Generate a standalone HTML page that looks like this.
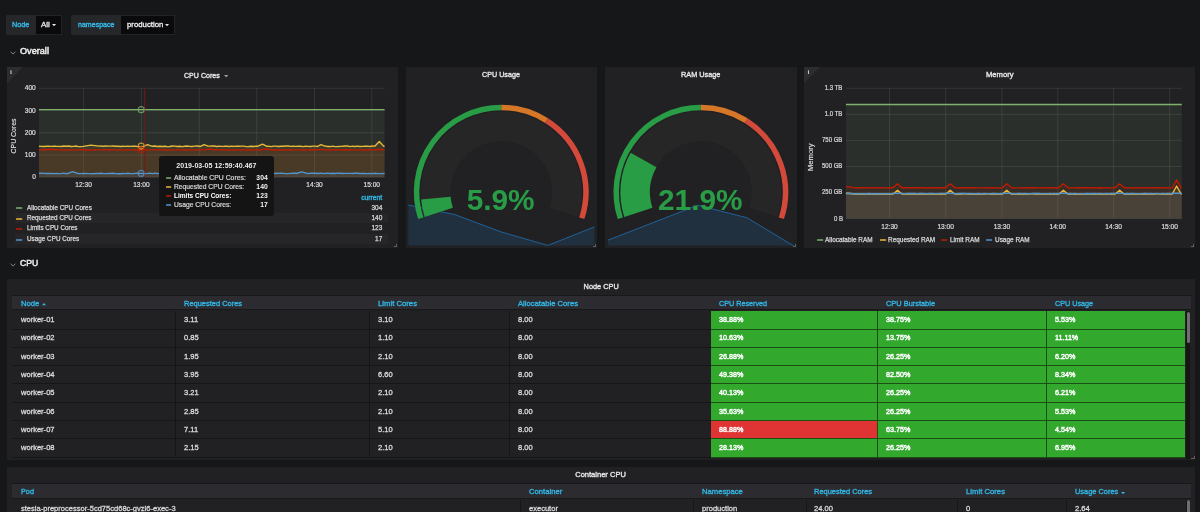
<!DOCTYPE html>
<html><head><meta charset="utf-8"><title>Kubernetes Capacity</title>
<style>
html,body{margin:0;padding:0;background:#161719}
body{width:1200px;height:512px;overflow:hidden;position:relative;font-family:"Liberation Sans",sans-serif;color:#d8d9da;font-size:7.5px;line-height:10px}
#page{position:absolute;left:0;top:0;width:1200px;height:512px;overflow:hidden;background:#161719;filter:blur(0.4px)}
div,span{box-sizing:border-box}
.a{position:absolute}
.t{position:absolute;white-space:nowrap;height:10px;line-height:10px}
.panel{position:absolute;background:#212124}
.corner{position:absolute;left:0;top:0;width:0;height:0;border-top:16px solid #2d2d30;border-right:16px solid transparent}
.ci{position:absolute;left:3.3px;top:1px;font-size:6.9px;line-height:8px;color:#c8c8c8;font-family:"Liberation Serif",serif;font-weight:bold}
.rh{position:absolute;right:.6px;bottom:.5px;width:3.4px;height:3.4px;border-right:1.1px solid #5e5e5e;border-bottom:1.1px solid #5e5e5e}
svg{position:absolute;overflow:visible}
svg text{font-family:"Liberation Sans",sans-serif;fill:#d8d9da}
.vb{position:absolute;top:14.6px;height:20.4px}
.lab{background:#26272b;border-radius:1.5px 0 0 1.5px}
.val{background:#0a0a0c;border:.6px solid #222326;border-left:0}
.caret{position:absolute;width:0;height:0;border-left:2px solid transparent;border-right:2px solid transparent;border-top:2.3px solid #e0e0e0}
.dash{position:absolute;height:1.6px;border-radius:.5px}
.cell{position:absolute}
</style></head><body><div id="page">

<div class="vb lab" style="left:5.9px;width:30px"></div>
<div class="vb val" style="left:35.9px;width:26px"></div>
<div class="vb lab" style="left:71.1px;width:50px"></div>
<div class="vb val" style="left:121.1px;width:54px"></div>
<div class="t" style="left:11.9px;top:19.6px;font-size:7.5px;color:#35b9e6;transform:scaleX(0.9593);transform-origin:0 50%;-webkit-text-stroke:0.38px #35b9e6">Node</div>
<div class="t" style="left:41.3px;top:19.6px;font-size:7.5px;color:#f0f0f0;transform:scaleX(1.0558);transform-origin:0 50%;-webkit-text-stroke:0.27px #f0f0f0">All</div>
<svg style="left:52.4px;top:23.6px" width="4.1" height="2.3" viewBox="0 0 4.1 2.3"><polygon points="0,0 4.1,0 2.05,2.3" fill="#e6e6e6"/></svg>
<div class="t" style="left:77.7px;top:19.6px;font-size:7.5px;color:#35b9e6;transform:scaleX(0.9413);transform-origin:0 50%;-webkit-text-stroke:0.38px #35b9e6">namespace</div>
<div class="t" style="left:126.7px;top:19.6px;font-size:7.5px;color:#f0f0f0;transform:scaleX(1.0364);transform-origin:0 50%;-webkit-text-stroke:0.3px #f0f0f0">production</div>
<svg style="left:164.8px;top:23.6px" width="4.1" height="2.3" viewBox="0 0 4.1 2.3"><polygon points="0,0 4.1,0 2.05,2.3" fill="#e6e6e6"/></svg>
<svg style="left:10.2px;top:51.2px" width="6" height="4" viewBox="0 0 6 4"><path d="M.6 .7 L3 3.1 L5.4 .7" fill="none" stroke="#8e8e8e" stroke-width=".9"/></svg>
<div class="t" style="left:20px;top:45.9px;font-size:8.9px;color:#ececec;transform:scaleX(1.0287);transform-origin:0 50%;-webkit-text-stroke:0.5px #ececec">Overall</div>
<svg style="left:10.2px;top:263px" width="6" height="4" viewBox="0 0 6 4"><path d="M.6 .7 L3 3.1 L5.4 .7" fill="none" stroke="#8e8e8e" stroke-width=".9"/></svg>
<div class="t" style="left:19.9px;top:257.9px;font-size:8.9px;color:#ececec;transform:scaleX(0.9739);transform-origin:0 50%;-webkit-text-stroke:0.5px #ececec">CPU</div>
<div class="panel" style="left:6.8px;top:67.2px;width:391px;height:180.7px">
<div class="corner"></div><div class="ci">i</div>
<div class="rh"></div></div>
<div class="t" style="left:184.2px;top:70.6px;font-size:7.6px;color:#e6e6e6;transform:scaleX(0.9315);transform-origin:0 50%;-webkit-text-stroke:0.36px #e6e6e6">CPU Cores</div>
<svg style="left:224.2px;top:74.6px" width="4.4" height="2.4" viewBox="0 0 4.4 2.4"><polygon points="0,0 4.4,0 2.2,2.4" fill="#9a9a9a"/></svg>
<svg style="left:0;top:0" width="1200" height="512" viewBox="0 0 1200 512"><path d="M39 88.3 H384.6" stroke="rgba(205,205,205,.2)" stroke-width=".6"/><path d="M39 110.52 H384.6" stroke="rgba(205,205,205,.2)" stroke-width=".6"/><path d="M39 132.75 H384.6" stroke="rgba(205,205,205,.2)" stroke-width=".6"/><path d="M39 154.97 H384.6" stroke="rgba(205,205,205,.2)" stroke-width=".6"/><path d="M39 177.2 H384.6" stroke="rgba(205,205,205,.2)" stroke-width=".6"/><path d="M83.6 88.3 V177.2" stroke="rgba(205,205,205,.2)" stroke-width=".6"/><path d="M141.4 88.3 V177.2" stroke="rgba(205,205,205,.2)" stroke-width=".6"/><path d="M199.2 88.3 V177.2" stroke="rgba(205,205,205,.2)" stroke-width=".6"/><path d="M256.8 88.3 V177.2" stroke="rgba(205,205,205,.2)" stroke-width=".6"/><path d="M314.5 88.3 V177.2" stroke="rgba(205,205,205,.2)" stroke-width=".6"/><path d="M371.8 88.3 V177.2" stroke="rgba(205,205,205,.2)" stroke-width=".6"/><path d="M39 109.64 L384.6 109.64 L384.6 177.2 L39 177.2 Z" fill="#7eb26d" fill-opacity=".1"/><path d="M39 146.28 L41.47 146.34 L43.94 146.56 L46.41 146.29 L48.87 146.31 L51.34 146.36 L53.81 146.12 L56.28 146.31 L58.75 146.39 L61.22 146.48 L63.69 146.06 L66.15 146.19 L68.62 146.06 L71.09 146.49 L73.56 146.42 L76.03 146.03 L78.5 146.6 L80.97 146.59 L83 146.4 L91 145.11 L99 146.1 L100.71 146.02 L103.18 146.32 L105.65 146.04 L108.12 146.12 L110.59 146.15 L113.06 146.03 L115.53 146.29 L117.99 146.27 L120.46 146.51 L122.93 146.32 L125.4 146.39 L127.87 146.31 L130.34 146.4 L132.81 146.28 L135.27 146.17 L137.74 146.61 L140.21 146.6 L142.68 146.51 L143.5 146.43 L147.5 144.71 L151.5 146.15 L152.55 146.18 L155.02 146.05 L157.49 146.47 L159.96 146.25 L162.43 146.52 L164.9 146.24 L167.37 146.58 L169.83 146.52 L172.3 146.01 L174.77 146.13 L177.24 146.55 L179.71 146.29 L182.18 146.6 L184.65 146.25 L187.11 146.05 L189.58 146.38 L192.05 146.47 L194.52 146.17 L196.99 146.06 L199.46 146.21 L200 146.59 L204 144.71 L208 146.08 L209.33 146.16 L211.8 146.07 L214.27 146.04 L216.74 146.49 L219.21 146.11 L221.67 146.34 L224.14 146.28 L226.61 146.12 L229.08 146.45 L231.55 146.09 L234.02 146.39 L236.49 146.08 L238.95 146.26 L241.42 146.13 L243.89 146.17 L246.36 146.59 L248.83 146.49 L251.3 146.19 L253.77 146.54 L256.23 146.13 L258 146.24 L262.5 144.11 L267 146.39 L268.58 146.07 L271.05 146.6 L273.51 146.14 L275.98 146.16 L278.45 146.47 L280.92 146.2 L283.39 146.19 L285.86 146.05 L288.33 146.06 L290.79 146.36 L293.26 146.15 L295.73 146.37 L298.2 146.23 L300.67 146.28 L303.14 146.58 L305.61 146.3 L308.07 146.35 L310.54 146.53 L313.01 146.12 L315.48 146.1 L317 146.55 L321 144.71 L325 146.16 L325.35 146.12 L327.82 146.45 L330.29 146.57 L332.76 146.13 L335.23 146.58 L337.7 146.54 L340.17 146.37 L342.63 146.26 L345.1 146.07 L347.57 146.03 L350.04 146.58 L352.51 146.15 L354.98 146.43 L357.45 146.16 L359.91 146.5 L362.38 146.37 L364.85 146.18 L367.32 146.11 L369.79 146.44 L372.26 146.05 L374.73 146.14 L374.8 146.34 L379.3 141.51 L383.8 146.38 L384.6 146.18 L384.6 177.2 L39 177.2 Z" fill="#eab839" fill-opacity=".1"/><path d="M39 149.96 L41.47 149.79 L43.94 149.75 L45 149.81 L50 149.26 L55 149.76 L56.28 149.79 L58.75 149.83 L61.22 149.88 L63.69 149.77 L66.15 149.83 L68.62 149.96 L71.09 149.98 L73.56 149.9 L76.03 149.91 L78.5 149.88 L80.97 149.78 L83.43 149.75 L85.9 149.75 L88.37 149.96 L90.84 149.91 L93.31 149.97 L95.78 149.75 L98.25 149.9 L100.71 149.86 L103.18 149.92 L105.65 149.82 L108.12 149.98 L110.59 149.76 L113.06 149.87 L115.53 149.92 L117.99 149.96 L120.46 149.92 L122.93 149.91 L125.4 149.93 L127.87 149.96 L130.34 149.83 L132.81 149.91 L135.27 149.96 L137.74 149.95 L140.21 149.84 L142.68 149.93 L145.15 149.95 L147.62 149.88 L150.09 149.89 L152.55 149.84 L155.02 149.88 L157.49 149.89 L159.96 149.76 L162.43 149.9 L164.9 149.98 L167.37 149.95 L169.83 149.92 L172.3 149.84 L174.77 149.92 L177.24 149.88 L179.71 149.85 L182.18 149.94 L184.65 149.76 L187.11 149.92 L189.58 149.75 L192.05 149.89 L194.52 149.86 L196.99 149.8 L199.46 149.91 L201.93 149.86 L203.8 149.89 L208.8 149.06 L213.8 149.8 L214.27 149.75 L216.74 149.82 L219.21 149.91 L221.67 149.79 L224.14 149.78 L226.61 149.96 L229.08 149.9 L231.55 149.85 L234.02 149.96 L236.49 149.82 L238.95 149.9 L241.42 149.79 L243.89 149.85 L246.36 149.94 L248.83 149.96 L251.3 149.95 L253.77 149.84 L256.23 149.88 L258.7 149.82 L260.4 149.78 L266.4 149.06 L272.4 149.94 L273.51 149.95 L275.98 149.91 L278.45 149.97 L280.92 149.81 L283.39 149.78 L285.86 149.85 L288.33 149.81 L290.79 149.79 L293.26 149.84 L295.73 149.89 L298.2 149.86 L300.67 149.82 L303.14 149.94 L305.61 149.98 L308.07 149.85 L310.54 149.76 L313.01 149.75 L315.48 149.95 L316 149.75 L321 149.36 L326 149.88 L327.82 149.82 L330.29 149.93 L332.76 149.75 L335.23 149.78 L337.7 149.85 L340.17 149.75 L342.63 149.94 L345.1 149.8 L347.57 149.78 L350.04 149.75 L352.51 149.89 L354.98 149.85 L357.45 149.89 L359.91 149.9 L362.38 149.94 L364.85 149.97 L367.32 149.91 L369.79 149.79 L372.26 149.86 L374 149.79 L379 149.26 L384 149.86 L384.6 149.91 L384.6 177.2 L39 177.2 Z" fill="#bf1b00" fill-opacity=".1"/><path d="M39 173.23 L41.47 173.29 L43.94 173.33 L46.41 173.54 L48.87 173.43 L51.34 173.49 L53.81 173.58 L56.28 173.36 L58.75 173.6 L61.22 173.67 L63.69 173.17 L66.15 173.68 L67.5 173.56 L72.5 171.62 L77.5 173.39 L78.5 173.5 L80.97 173.67 L83.43 173.35 L85.9 173.46 L88.37 173.65 L90.84 173.6 L93.31 173.69 L95.78 173.4 L98.25 173.51 L100.71 173.24 L103.18 173.55 L105.65 173.61 L108.12 173.51 L110.59 173.55 L113.06 173.25 L115.53 173.66 L117.99 173.71 L120.46 173.71 L122.93 173.44 L125.4 173.6 L127.87 173.31 L130.34 173.67 L132.81 173.64 L135.27 173.33 L137.74 173.17 L140.21 173.39 L142.68 173.45 L145.15 173.58 L147.62 173.41 L150.09 173.14 L152.55 173.61 L155.02 173.16 L157.49 173.6 L159.96 173.23 L162.43 173.32 L164.9 173.59 L167.37 173.21 L169.83 173.21 L172.3 173.43 L174.77 173.56 L177.24 173.63 L179.71 173.54 L182.18 173.69 L184.65 173.42 L187.11 173.69 L189.58 173.17 L192.05 173.25 L194.52 173.44 L196.99 173.3 L199.46 173.56 L201.93 173.51 L204.39 173.44 L206.86 173.63 L209.33 173.46 L211.8 173.31 L214.27 173.35 L216.74 173.63 L219.21 173.66 L221.67 173.25 L224.14 173.63 L226.61 173.7 L229.08 173.44 L231.55 173.47 L234.02 173.24 L236.49 173.44 L238.95 173.42 L241.42 173.48 L243.89 173.14 L246.36 173.7 L248.83 173.43 L251.3 173.36 L253.77 173.6 L256.23 173.46 L258.7 173.42 L261.17 173.54 L263.64 173.16 L266.11 173.44 L268.58 173.37 L271.05 173.7 L273.51 173.68 L275.98 173.28 L278.45 173.41 L280.92 173.2 L283.39 173.38 L285.86 173.61 L288.33 173.66 L290.79 173.41 L293.26 173.31 L295.73 173.24 L296.5 173.49 L301.5 171.82 L306.5 173.2 L308.07 173.59 L310.54 173.14 L313.01 173.24 L315.48 173.26 L317.95 173.53 L320.42 173.31 L322.89 173.33 L325.35 173.49 L327.82 173.18 L330.29 173.56 L332.76 173.2 L335.23 173.43 L337.7 173.27 L340.17 173.24 L342.63 173.44 L345.1 173.38 L347.57 173.35 L350.04 173.37 L352.51 173.44 L354.98 173.22 L357.45 173.24 L359.91 173.5 L362.38 173.5 L364.85 173.44 L367.32 173.63 L369.79 173.49 L372.26 173.64 L374.73 173.26 L377.19 173.57 L379.66 173.61 L382.13 173.66 L384.6 173.31 L384.6 177.2 L39 177.2 Z" fill="#5195ce" fill-opacity=".1"/><path d="M39 109.64 L384.6 109.64" fill="none" stroke="#7eb26d" stroke-width="1.4" stroke-linejoin="round"/><path d="M39 146.28 L41.47 146.34 L43.94 146.56 L46.41 146.29 L48.87 146.31 L51.34 146.36 L53.81 146.12 L56.28 146.31 L58.75 146.39 L61.22 146.48 L63.69 146.06 L66.15 146.19 L68.62 146.06 L71.09 146.49 L73.56 146.42 L76.03 146.03 L78.5 146.6 L80.97 146.59 L83 146.4 L91 145.11 L99 146.1 L100.71 146.02 L103.18 146.32 L105.65 146.04 L108.12 146.12 L110.59 146.15 L113.06 146.03 L115.53 146.29 L117.99 146.27 L120.46 146.51 L122.93 146.32 L125.4 146.39 L127.87 146.31 L130.34 146.4 L132.81 146.28 L135.27 146.17 L137.74 146.61 L140.21 146.6 L142.68 146.51 L143.5 146.43 L147.5 144.71 L151.5 146.15 L152.55 146.18 L155.02 146.05 L157.49 146.47 L159.96 146.25 L162.43 146.52 L164.9 146.24 L167.37 146.58 L169.83 146.52 L172.3 146.01 L174.77 146.13 L177.24 146.55 L179.71 146.29 L182.18 146.6 L184.65 146.25 L187.11 146.05 L189.58 146.38 L192.05 146.47 L194.52 146.17 L196.99 146.06 L199.46 146.21 L200 146.59 L204 144.71 L208 146.08 L209.33 146.16 L211.8 146.07 L214.27 146.04 L216.74 146.49 L219.21 146.11 L221.67 146.34 L224.14 146.28 L226.61 146.12 L229.08 146.45 L231.55 146.09 L234.02 146.39 L236.49 146.08 L238.95 146.26 L241.42 146.13 L243.89 146.17 L246.36 146.59 L248.83 146.49 L251.3 146.19 L253.77 146.54 L256.23 146.13 L258 146.24 L262.5 144.11 L267 146.39 L268.58 146.07 L271.05 146.6 L273.51 146.14 L275.98 146.16 L278.45 146.47 L280.92 146.2 L283.39 146.19 L285.86 146.05 L288.33 146.06 L290.79 146.36 L293.26 146.15 L295.73 146.37 L298.2 146.23 L300.67 146.28 L303.14 146.58 L305.61 146.3 L308.07 146.35 L310.54 146.53 L313.01 146.12 L315.48 146.1 L317 146.55 L321 144.71 L325 146.16 L325.35 146.12 L327.82 146.45 L330.29 146.57 L332.76 146.13 L335.23 146.58 L337.7 146.54 L340.17 146.37 L342.63 146.26 L345.1 146.07 L347.57 146.03 L350.04 146.58 L352.51 146.15 L354.98 146.43 L357.45 146.16 L359.91 146.5 L362.38 146.37 L364.85 146.18 L367.32 146.11 L369.79 146.44 L372.26 146.05 L374.73 146.14 L374.8 146.34 L379.3 141.51 L383.8 146.38 L384.6 146.18" fill="none" stroke="#eab839" stroke-width="1.4" stroke-linejoin="round"/><path d="M39 149.96 L41.47 149.79 L43.94 149.75 L45 149.81 L50 149.26 L55 149.76 L56.28 149.79 L58.75 149.83 L61.22 149.88 L63.69 149.77 L66.15 149.83 L68.62 149.96 L71.09 149.98 L73.56 149.9 L76.03 149.91 L78.5 149.88 L80.97 149.78 L83.43 149.75 L85.9 149.75 L88.37 149.96 L90.84 149.91 L93.31 149.97 L95.78 149.75 L98.25 149.9 L100.71 149.86 L103.18 149.92 L105.65 149.82 L108.12 149.98 L110.59 149.76 L113.06 149.87 L115.53 149.92 L117.99 149.96 L120.46 149.92 L122.93 149.91 L125.4 149.93 L127.87 149.96 L130.34 149.83 L132.81 149.91 L135.27 149.96 L137.74 149.95 L140.21 149.84 L142.68 149.93 L145.15 149.95 L147.62 149.88 L150.09 149.89 L152.55 149.84 L155.02 149.88 L157.49 149.89 L159.96 149.76 L162.43 149.9 L164.9 149.98 L167.37 149.95 L169.83 149.92 L172.3 149.84 L174.77 149.92 L177.24 149.88 L179.71 149.85 L182.18 149.94 L184.65 149.76 L187.11 149.92 L189.58 149.75 L192.05 149.89 L194.52 149.86 L196.99 149.8 L199.46 149.91 L201.93 149.86 L203.8 149.89 L208.8 149.06 L213.8 149.8 L214.27 149.75 L216.74 149.82 L219.21 149.91 L221.67 149.79 L224.14 149.78 L226.61 149.96 L229.08 149.9 L231.55 149.85 L234.02 149.96 L236.49 149.82 L238.95 149.9 L241.42 149.79 L243.89 149.85 L246.36 149.94 L248.83 149.96 L251.3 149.95 L253.77 149.84 L256.23 149.88 L258.7 149.82 L260.4 149.78 L266.4 149.06 L272.4 149.94 L273.51 149.95 L275.98 149.91 L278.45 149.97 L280.92 149.81 L283.39 149.78 L285.86 149.85 L288.33 149.81 L290.79 149.79 L293.26 149.84 L295.73 149.89 L298.2 149.86 L300.67 149.82 L303.14 149.94 L305.61 149.98 L308.07 149.85 L310.54 149.76 L313.01 149.75 L315.48 149.95 L316 149.75 L321 149.36 L326 149.88 L327.82 149.82 L330.29 149.93 L332.76 149.75 L335.23 149.78 L337.7 149.85 L340.17 149.75 L342.63 149.94 L345.1 149.8 L347.57 149.78 L350.04 149.75 L352.51 149.89 L354.98 149.85 L357.45 149.89 L359.91 149.9 L362.38 149.94 L364.85 149.97 L367.32 149.91 L369.79 149.79 L372.26 149.86 L374 149.79 L379 149.26 L384 149.86 L384.6 149.91" fill="none" stroke="#bf1b00" stroke-width="1.4" stroke-linejoin="round"/><path d="M39 173.23 L41.47 173.29 L43.94 173.33 L46.41 173.54 L48.87 173.43 L51.34 173.49 L53.81 173.58 L56.28 173.36 L58.75 173.6 L61.22 173.67 L63.69 173.17 L66.15 173.68 L67.5 173.56 L72.5 171.62 L77.5 173.39 L78.5 173.5 L80.97 173.67 L83.43 173.35 L85.9 173.46 L88.37 173.65 L90.84 173.6 L93.31 173.69 L95.78 173.4 L98.25 173.51 L100.71 173.24 L103.18 173.55 L105.65 173.61 L108.12 173.51 L110.59 173.55 L113.06 173.25 L115.53 173.66 L117.99 173.71 L120.46 173.71 L122.93 173.44 L125.4 173.6 L127.87 173.31 L130.34 173.67 L132.81 173.64 L135.27 173.33 L137.74 173.17 L140.21 173.39 L142.68 173.45 L145.15 173.58 L147.62 173.41 L150.09 173.14 L152.55 173.61 L155.02 173.16 L157.49 173.6 L159.96 173.23 L162.43 173.32 L164.9 173.59 L167.37 173.21 L169.83 173.21 L172.3 173.43 L174.77 173.56 L177.24 173.63 L179.71 173.54 L182.18 173.69 L184.65 173.42 L187.11 173.69 L189.58 173.17 L192.05 173.25 L194.52 173.44 L196.99 173.3 L199.46 173.56 L201.93 173.51 L204.39 173.44 L206.86 173.63 L209.33 173.46 L211.8 173.31 L214.27 173.35 L216.74 173.63 L219.21 173.66 L221.67 173.25 L224.14 173.63 L226.61 173.7 L229.08 173.44 L231.55 173.47 L234.02 173.24 L236.49 173.44 L238.95 173.42 L241.42 173.48 L243.89 173.14 L246.36 173.7 L248.83 173.43 L251.3 173.36 L253.77 173.6 L256.23 173.46 L258.7 173.42 L261.17 173.54 L263.64 173.16 L266.11 173.44 L268.58 173.37 L271.05 173.7 L273.51 173.68 L275.98 173.28 L278.45 173.41 L280.92 173.2 L283.39 173.38 L285.86 173.61 L288.33 173.66 L290.79 173.41 L293.26 173.31 L295.73 173.24 L296.5 173.49 L301.5 171.82 L306.5 173.2 L308.07 173.59 L310.54 173.14 L313.01 173.24 L315.48 173.26 L317.95 173.53 L320.42 173.31 L322.89 173.33 L325.35 173.49 L327.82 173.18 L330.29 173.56 L332.76 173.2 L335.23 173.43 L337.7 173.27 L340.17 173.24 L342.63 173.44 L345.1 173.38 L347.57 173.35 L350.04 173.37 L352.51 173.44 L354.98 173.22 L357.45 173.24 L359.91 173.5 L362.38 173.5 L364.85 173.44 L367.32 173.63 L369.79 173.49 L372.26 173.64 L374.73 173.26 L377.19 173.57 L379.66 173.61 L382.13 173.66 L384.6 173.31" fill="none" stroke="#5195ce" stroke-width="1.4" stroke-linejoin="round"/><path d="M144.7 88.3 V177.2" stroke="#801515" stroke-width=".9"/><circle cx="141.2" cy="109.64" r="3" fill="none" stroke="#7eb26d" stroke-opacity=".75" stroke-width="1.1"/><circle cx="141.2" cy="146.08" r="3" fill="none" stroke="#eab839" stroke-opacity=".75" stroke-width="1.1"/><circle cx="141.2" cy="149.86" r="3" fill="none" stroke="#bf1b00" stroke-opacity=".75" stroke-width="1.1"/><circle cx="141.2" cy="173.42" r="3" fill="none" stroke="#5195ce" stroke-opacity=".75" stroke-width="1.1"/><text transform="translate(15.6 136) rotate(-90)" text-anchor="middle" textLength="34.8" lengthAdjust="spacingAndGlyphs" style="font-size:6.9px;stroke:#d8d9da;stroke-width:.18px">CPU Cores</text></svg>
<div class="t" style="left:24.79px;top:83.4px;font-size:6.6px;color:#d8d9da;transform:scaleX(1.0000);transform-origin:100% 50%;-webkit-text-stroke:0.22px #d8d9da">400</div>
<div class="t" style="left:24.79px;top:105.62px;font-size:6.6px;color:#d8d9da;transform:scaleX(1.0000);transform-origin:100% 50%;-webkit-text-stroke:0.22px #d8d9da">300</div>
<div class="t" style="left:24.79px;top:127.85px;font-size:6.6px;color:#d8d9da;transform:scaleX(1.0000);transform-origin:100% 50%;-webkit-text-stroke:0.22px #d8d9da">200</div>
<div class="t" style="left:24.79px;top:150.07px;font-size:6.6px;color:#d8d9da;transform:scaleX(1.0000);transform-origin:100% 50%;-webkit-text-stroke:0.22px #d8d9da">100</div>
<div class="t" style="left:32.13px;top:172.3px;font-size:6.6px;color:#d8d9da;transform:scaleX(1.0000);transform-origin:100% 50%;-webkit-text-stroke:0.22px #d8d9da">0</div>
<div class="t" style="left:75.34px;top:179.9px;font-size:6.6px;color:#d8d9da;transform:scaleX(1.0000);transform-origin:50% 50%;-webkit-text-stroke:0.22px #d8d9da">12:30</div>
<div class="t" style="left:133.14px;top:179.9px;font-size:6.6px;color:#d8d9da;transform:scaleX(1.0000);transform-origin:50% 50%;-webkit-text-stroke:0.22px #d8d9da">13:00</div>
<div class="t" style="left:190.94px;top:179.9px;font-size:6.6px;color:#d8d9da;transform:scaleX(1.0000);transform-origin:50% 50%;-webkit-text-stroke:0.22px #d8d9da">13:30</div>
<div class="t" style="left:248.54px;top:179.9px;font-size:6.6px;color:#d8d9da;transform:scaleX(1.0000);transform-origin:50% 50%;-webkit-text-stroke:0.22px #d8d9da">14:00</div>
<div class="t" style="left:306.24px;top:179.9px;font-size:6.6px;color:#d8d9da;transform:scaleX(1.0000);transform-origin:50% 50%;-webkit-text-stroke:0.22px #d8d9da">14:30</div>
<div class="t" style="left:363.54px;top:179.9px;font-size:6.6px;color:#d8d9da;transform:scaleX(1.0000);transform-origin:50% 50%;-webkit-text-stroke:0.22px #d8d9da">15:00</div>
<div class="t" style="left:362.07px;top:192.7px;font-size:6.5px;color:#33b5e5;transform:scaleX(1.0430);transform-origin:100% 50%;-webkit-text-stroke:0.36px #33b5e5">current</div>
<svg style="left:16.4px;top:206.4px" width="6.3" height="4" viewBox="0 0 6.3 4"><rect x="0" y="1.2" width="6.3" height="1.6" rx=".5" fill="#7eb26d"/></svg>
<div class="t" style="left:27px;top:202.5px;font-size:6.5px;color:#d8d9da;transform:scaleX(0.9748);transform-origin:0 50%;-webkit-text-stroke:0.25px #d8d9da">Allocatable CPU Cores</div>
<div class="t" style="left:371.45px;top:202.5px;font-size:6.5px;color:#d8d9da;transform:scaleX(1.0000);transform-origin:100% 50%;-webkit-text-stroke:0.25px #d8d9da">304</div>
<div class="a" style="left:15px;top:212.75px;width:373px;height:10.4px;background:#262629"></div>
<svg style="left:16.4px;top:216.85px" width="6.3" height="4" viewBox="0 0 6.3 4"><rect x="0" y="1.2" width="6.3" height="1.6" rx=".5" fill="#eab839"/></svg>
<div class="t" style="left:27px;top:212.95px;font-size:6.5px;color:#d8d9da;transform:scaleX(0.9748);transform-origin:0 50%;-webkit-text-stroke:0.25px #d8d9da">Requested CPU Cores</div>
<div class="t" style="left:371.45px;top:212.95px;font-size:6.5px;color:#d8d9da;transform:scaleX(1.0000);transform-origin:100% 50%;-webkit-text-stroke:0.25px #d8d9da">140</div>
<svg style="left:16.4px;top:227.3px" width="6.3" height="4" viewBox="0 0 6.3 4"><rect x="0" y="1.2" width="6.3" height="1.6" rx=".5" fill="#bf1b00"/></svg>
<div class="t" style="left:27px;top:223.4px;font-size:6.5px;color:#d8d9da;transform:scaleX(0.9748);transform-origin:0 50%;-webkit-text-stroke:0.25px #d8d9da">Limits CPU Cores</div>
<div class="t" style="left:371.45px;top:223.4px;font-size:6.5px;color:#d8d9da;transform:scaleX(1.0000);transform-origin:100% 50%;-webkit-text-stroke:0.25px #d8d9da">123</div>
<div class="a" style="left:15px;top:233.65px;width:373px;height:10.4px;background:#262629"></div>
<svg style="left:16.4px;top:237.75px" width="6.3" height="4" viewBox="0 0 6.3 4"><rect x="0" y="1.2" width="6.3" height="1.6" rx=".5" fill="#5195ce"/></svg>
<div class="t" style="left:27px;top:233.85px;font-size:6.5px;color:#d8d9da;transform:scaleX(0.9748);transform-origin:0 50%;-webkit-text-stroke:0.25px #d8d9da">Usage CPU Cores</div>
<div class="t" style="left:375.07px;top:233.85px;font-size:6.5px;color:#d8d9da;transform:scaleX(1.0000);transform-origin:100% 50%;-webkit-text-stroke:0.25px #d8d9da">17</div>
<div class="a" style="left:159.3px;top:156.2px;width:114.7px;height:59.9px;background:#141414;border-radius:3px"></div>
<div class="t" style="left:179.07px;top:160.9px;font-size:6.6px;color:#eaeaea;transform:scaleX(1.0713);transform-origin:50% 50%;font-weight:bold">2019-03-05 12:59:40.467</div>
<svg style="left:166.3px;top:176px" width="5.2" height="4" viewBox="0 0 5.2 4"><rect x="0" y="1.25" width="5.2" height="1.5" rx=".5" fill="#7eb26d"/></svg>
<div class="t" style="left:173.9px;top:172.9px;font-size:7px;color:#d8d9da;transform:scaleX(0.9765);transform-origin:0 50%;-webkit-text-stroke:0.2px #d8d9da">Allocatable CPU Cores:</div>
<div class="t" style="left:256.22px;top:172.9px;font-size:7px;color:#f2f2f2;transform:scaleX(0.9700);transform-origin:100% 50%;font-weight:bold">304</div>
<svg style="left:166.3px;top:185.12px" width="5.2" height="4" viewBox="0 0 5.2 4"><rect x="0" y="1.25" width="5.2" height="1.5" rx=".5" fill="#eab839"/></svg>
<div class="t" style="left:173.9px;top:182.02px;font-size:7px;color:#d8d9da;transform:scaleX(0.9601);transform-origin:0 50%;-webkit-text-stroke:0.2px #d8d9da">Requested CPU Cores:</div>
<div class="t" style="left:256.22px;top:182.02px;font-size:7px;color:#f2f2f2;transform:scaleX(0.9700);transform-origin:100% 50%;font-weight:bold">140</div>
<svg style="left:166.3px;top:194.24px" width="5.2" height="4" viewBox="0 0 5.2 4"><rect x="0" y="1.25" width="5.2" height="1.5" rx=".5" fill="#bf1b00"/></svg>
<div class="t" style="left:173.9px;top:191.14px;font-size:7px;color:#fff;transform:scaleX(0.9324);transform-origin:0 50%;font-weight:bold">Limits CPU Cores:</div>
<div class="t" style="left:256.22px;top:191.14px;font-size:7px;color:#f2f2f2;transform:scaleX(0.9700);transform-origin:100% 50%;font-weight:bold">123</div>
<svg style="left:166.3px;top:203.36px" width="5.2" height="4" viewBox="0 0 5.2 4"><rect x="0" y="1.25" width="5.2" height="1.5" rx=".5" fill="#5195ce"/></svg>
<div class="t" style="left:173.9px;top:200.26px;font-size:7px;color:#d8d9da;transform:scaleX(0.9601);transform-origin:0 50%;-webkit-text-stroke:0.2px #d8d9da">Usage CPU Cores:</div>
<div class="t" style="left:260.11px;top:200.26px;font-size:7px;color:#f2f2f2;transform:scaleX(0.9700);transform-origin:100% 50%;font-weight:bold">17</div>
<div class="panel" style="left:405.7px;top:67.2px;width:191.3px;height:180.7px">
<div class="rh"></div></div>
<div class="t" style="left:482.2px;top:70.3px;font-size:7.6px;color:#e6e6e6;transform:scaleX(0.9445);transform-origin:0 50%;-webkit-text-stroke:0.36px #e6e6e6">CPU Usage</div>
<svg style="left:0;top:0" width="1200" height="512" viewBox="0 0 1200 512"><path d="M408.3 205 L454.82 214.6 L501.35 232 L547.88 245.4 L594.4 226.9 L594.4 245.5 L408.3 245.5 Z" fill="rgb(31,118,189)" fill-opacity=".18"/><path d="M408.3 205 L454.82 214.6 L501.35 232 L547.88 245.4 L594.4 226.9" fill="none" stroke="rgb(31,120,193)" stroke-width=".7"/><path d="M438.77 212.4 A65.7 65.7 0 1 1 563.73 212.4" fill="none" stroke="#262626" stroke-width="29.6"/><path d="M438.77 212.4 A65.7 65.7 0 0 1 435.83 198.12" fill="none" stroke="#299c46" stroke-width="29.6"/><path d="M420.74 218.26 A84.65 84.65 0 0 1 501.25 107.45" fill="none" stroke="#299c46" stroke-width="5.5"/><path d="M501.25 107.45 A84.65 84.65 0 0 1 546.61 120.63" fill="none" stroke="#d67627" stroke-width="5.5"/><path d="M546.61 120.63 A84.65 84.65 0 0 1 581.76 218.26" fill="none" stroke="#d44a3a" stroke-width="5.5"/><text x="500.65" y="209.8" text-anchor="middle" style="font-size:29.8px;font-weight:bold;fill:#299c46">5.9%</text></svg>
<div class="panel" style="left:605.3px;top:67.2px;width:191.3px;height:180.7px">
<div class="rh"></div></div>
<div class="t" style="left:681.2px;top:70.3px;font-size:7.6px;color:#e6e6e6;transform:scaleX(0.9617);transform-origin:0 50%;-webkit-text-stroke:0.36px #e6e6e6">RAM Usage</div>
<svg style="left:0;top:0" width="1200" height="512" viewBox="0 0 1200 512"><path d="M607.9 240.2 L697.6 205.3 L711 208.6 L746.8 217.7 L794 246 L794 245.5 L607.9 245.5 Z" fill="rgb(31,118,189)" fill-opacity=".18"/><path d="M607.9 240.2 L697.6 205.3 L711 208.6 L746.8 217.7 L794 246" fill="none" stroke="rgb(31,120,193)" stroke-width=".7"/><path d="M638.37 212.4 A65.7 65.7 0 1 1 763.33 212.4" fill="none" stroke="#262626" stroke-width="29.6"/><path d="M638.37 212.4 A65.7 65.7 0 0 1 643.56 159.94" fill="none" stroke="#299c46" stroke-width="29.6"/><path d="M620.34 218.26 A84.65 84.65 0 0 1 700.85 107.45" fill="none" stroke="#299c46" stroke-width="5.5"/><path d="M700.85 107.45 A84.65 84.65 0 0 1 746.21 120.63" fill="none" stroke="#d67627" stroke-width="5.5"/><path d="M746.21 120.63 A84.65 84.65 0 0 1 781.36 218.26" fill="none" stroke="#d44a3a" stroke-width="5.5"/><text x="700.25" y="209.8" text-anchor="middle" style="font-size:29.8px;font-weight:bold;fill:#299c46">21.9%</text></svg>
<div class="panel" style="left:804.2px;top:67.2px;width:390.9px;height:180.7px">
<div class="corner"></div><div class="ci">i</div>
<div class="rh"></div></div>
<div class="t" style="left:985.88px;top:70.3px;font-size:7.6px;color:#e6e6e6;transform:scaleX(1.0056);transform-origin:50% 50%;-webkit-text-stroke:0.36px #e6e6e6">Memory</div>
<svg style="left:0;top:0" width="1200" height="512" viewBox="0 0 1200 512"><path d="M845.9 88.3 H1181.8" stroke="rgba(205,205,205,.2)" stroke-width=".6"/><path d="M845.9 114.36 H1181.8" stroke="rgba(205,205,205,.2)" stroke-width=".6"/><path d="M845.9 140.42 H1181.8" stroke="rgba(205,205,205,.2)" stroke-width=".6"/><path d="M845.9 166.48 H1181.8" stroke="rgba(205,205,205,.2)" stroke-width=".6"/><path d="M845.9 192.54 H1181.8" stroke="rgba(205,205,205,.2)" stroke-width=".6"/><path d="M845.9 218.6 H1181.8" stroke="rgba(205,205,205,.2)" stroke-width=".6"/><path d="M889.5 88.3 V218.6" stroke="rgba(205,205,205,.2)" stroke-width=".6"/><path d="M945.7 88.3 V218.6" stroke="rgba(205,205,205,.2)" stroke-width=".6"/><path d="M1001.9 88.3 V218.6" stroke="rgba(205,205,205,.2)" stroke-width=".6"/><path d="M1057.8 88.3 V218.6" stroke="rgba(205,205,205,.2)" stroke-width=".6"/><path d="M1113.6 88.3 V218.6" stroke="rgba(205,205,205,.2)" stroke-width=".6"/><path d="M1169.7 88.3 V218.6" stroke="rgba(205,205,205,.2)" stroke-width=".6"/><path d="M845.9 104.5 L1181.8 104.5 L1181.8 218.6 L845.9 218.6 Z" fill="#7eb26d" fill-opacity=".1"/><path d="M845.9 193.1 L848 193.23 L850.1 193.49 L852.2 193.86 L854.3 193.94 L856.4 194.01 L858.5 194.1 L860.6 194.05 L862.69 193.99 L864.79 194.11 L866.89 194.08 L868.99 194.02 L871.09 193.91 L873.19 194.03 L875.29 193.99 L877.39 193.93 L879.49 193.89 L881.59 194.01 L883.69 193.91 L885.79 193.99 L887.89 194.04 L889.99 193.99 L892.09 193.94 L893.1 194 L897.5 190.2 L901.9 194 L902.58 194.01 L904.68 194.12 L906.78 194.11 L908.88 194.06 L910.98 193.94 L913.08 193.91 L915.18 194.09 L917.28 194.07 L919.38 194.03 L921.48 193.97 L923.58 193.95 L925.68 194.04 L927.78 194.02 L929.88 194.02 L931.97 194.03 L934.07 194.06 L936.17 193.93 L938.27 193.94 L940.37 194.12 L942.47 194.1 L944.57 194.09 L945.8 194 L950.2 190.2 L954.6 194 L955.07 193.98 L957.17 194.03 L959.27 193.9 L961.37 194.01 L963.46 193.9 L965.56 193.9 L967.66 194.04 L969.76 194.01 L971.86 194.03 L973.96 193.97 L976.06 193.99 L978.16 193.93 L980.26 193.96 L982.36 194.06 L984.46 194.08 L986.56 193.9 L988.66 193.91 L990.76 194.07 L992.86 194.03 L994.96 194.06 L997.05 193.93 L999.15 193.98 L1001.25 193.94 L1002.4 194 L1006.8 190.2 L1011.2 194 L1011.75 194.12 L1013.85 193.96 L1015.95 194.01 L1018.05 194.06 L1020.15 194.1 L1022.25 193.98 L1024.35 193.97 L1026.45 193.9 L1028.55 194.09 L1030.64 193.9 L1032.74 193.9 L1034.84 194.02 L1036.94 194 L1039.04 194.04 L1041.14 193.95 L1043.24 194.07 L1045.34 193.9 L1047.44 193.93 L1049.54 194.04 L1051.64 193.9 L1053.74 193.95 L1055.84 194.05 L1057.94 194.05 L1059 193.95 L1063.4 190.2 L1067.8 193.97 L1068.43 194.05 L1070.53 193.97 L1072.63 193.91 L1074.73 194.05 L1076.83 194.02 L1078.93 194.1 L1081.03 194.11 L1083.13 194.1 L1085.23 193.99 L1087.33 194.07 L1089.43 193.95 L1091.53 193.96 L1093.63 193.98 L1095.73 194.1 L1097.83 194.09 L1099.92 193.94 L1102.02 193.97 L1104.12 193.97 L1106.22 193.97 L1108.32 193.97 L1110.42 193.97 L1112.52 193.93 L1114.62 194.02 L1115.2 194.07 L1119.6 190.2 L1124 194.08 L1125.12 194.02 L1127.22 193.92 L1129.32 194.06 L1131.41 194.09 L1133.51 193.95 L1135.61 193.89 L1137.71 194 L1139.81 194.01 L1141.91 194.02 L1144.01 194.11 L1146.11 194.04 L1148.21 194.07 L1150.31 193.9 L1152.41 194.01 L1154.51 194.07 L1156.61 193.9 L1158.71 193.9 L1160.81 194.06 L1162.91 194.1 L1165 193.9 L1167.1 194.03 L1169.2 193.91 L1171.3 194.06 L1172.2 194.04 L1176.6 186 L1181 193.93 L1181.8 194.06 L1181.8 218.6 L845.9 218.6 Z" fill="#eab839" fill-opacity=".1"/><path d="M845.9 186.34 L848 186.88 L850.1 187.02 L852.2 187.6 L854.3 187.92 L856.4 187.69 L858.5 187.72 L860.6 187.87 L862.69 187.73 L864.79 187.68 L866.89 187.9 L868.99 187.78 L871.09 187.89 L873.19 187.69 L875.29 187.77 L877.39 187.86 L879.49 187.66 L881.59 187.71 L883.69 187.85 L885.79 187.92 L887.89 187.94 L889.99 187.68 L892.09 187.8 L892.9 187.88 L897.5 183.8 L902.1 187.86 L902.58 187.71 L904.68 187.67 L906.78 187.68 L908.88 187.66 L910.98 187.82 L913.08 187.8 L915.18 187.82 L917.28 187.69 L919.38 187.71 L921.48 187.71 L923.58 187.9 L925.68 187.95 L927.78 187.93 L929.88 187.68 L931.97 187.67 L934.07 187.94 L936.17 187.79 L938.27 187.88 L940.37 187.75 L942.47 187.79 L944.57 187.8 L945.6 187.78 L950.2 183.8 L954.8 187.65 L955.07 187.86 L957.17 187.9 L959.27 187.7 L961.37 187.79 L963.46 187.87 L965.56 187.77 L967.66 187.71 L969.76 187.7 L971.86 187.8 L973.96 187.65 L976.06 187.92 L978.16 187.89 L980.26 187.86 L982.36 187.91 L984.46 187.84 L986.56 187.77 L988.66 187.83 L990.76 187.8 L992.86 187.94 L994.96 187.89 L997.05 187.73 L999.15 187.92 L1001.25 187.87 L1002.2 187.88 L1006.8 183.8 L1011.4 187.77 L1011.75 187.92 L1013.85 187.91 L1015.95 187.86 L1018.05 187.88 L1020.15 187.88 L1022.25 187.77 L1024.35 187.87 L1026.45 187.67 L1028.55 187.75 L1030.64 187.79 L1032.74 187.65 L1034.84 187.76 L1036.94 187.84 L1039.04 187.84 L1041.14 187.72 L1043.24 187.93 L1045.34 187.85 L1047.44 187.75 L1049.54 187.85 L1051.64 187.82 L1053.74 187.81 L1055.84 187.77 L1057.94 187.95 L1058.8 187.8 L1063.4 183.8 L1068 187.8 L1068.43 187.94 L1070.53 187.66 L1072.63 187.83 L1074.73 187.87 L1076.83 187.73 L1078.93 187.77 L1081.03 187.67 L1083.13 187.71 L1085.23 187.76 L1087.33 187.68 L1089.43 187.73 L1091.53 187.92 L1093.63 187.82 L1095.73 187.8 L1097.83 187.94 L1099.92 187.82 L1102.02 187.95 L1104.12 187.84 L1106.22 187.89 L1108.32 187.67 L1110.42 187.83 L1112.52 187.88 L1114.62 187.66 L1115 187.8 L1119.6 183.8 L1124.2 187.8 L1125.12 187.7 L1127.22 187.8 L1129.32 187.83 L1131.41 187.67 L1133.51 187.93 L1135.61 187.78 L1137.71 187.81 L1139.81 187.83 L1141.91 187.76 L1144.01 187.74 L1146.11 187.85 L1148.21 187.82 L1150.31 187.74 L1152.41 187.86 L1154.51 187.74 L1156.61 187.65 L1158.71 187.72 L1160.81 187.66 L1162.91 187.7 L1165 187.88 L1167.1 187.77 L1169.2 187.92 L1171.3 187.87 L1172 187.8 L1176.6 179.8 L1181.2 187.8 L1181.8 187.67 L1181.8 218.6 L845.9 218.6 Z" fill="#bf1b00" fill-opacity=".1"/><path d="M845.9 193.61 L848 193.73 L850.1 193.55 L852.2 193.52 L854.3 193.83 L856.4 193.69 L858.5 193.6 L860.6 193.62 L862.69 193.71 L864.79 193.7 L866.89 193.81 L868.99 193.56 L871.09 193.76 L873.19 193.68 L875.29 193.78 L877.39 193.75 L879.49 193.77 L881.59 193.79 L883.69 193.83 L885.79 193.67 L887.89 193.61 L889.99 193.71 L892.09 193.75 L892.5 193.56 L897.5 193.1 L902.5 193.42 L902.58 193.72 L904.68 193.85 L906.78 193.54 L908.88 193.43 L910.98 193.45 L913.08 193.56 L915.18 193.5 L917.28 193.83 L919.38 193.38 L921.48 193.5 L923.58 193.41 L925.68 193.67 L927.78 193.74 L929.88 193.44 L931.97 193.38 L934.07 193.58 L936.17 193.64 L938.27 193.8 L940.37 193.37 L942.47 193.4 L944.57 193.44 L945.2 193.46 L950.2 193.1 L955.2 193.71 L957.17 193.65 L959.27 193.46 L961.37 193.44 L963.46 193.49 L965.56 193.44 L967.66 193.73 L969.76 193.51 L971.86 193.62 L973.96 193.76 L976.06 193.59 L978.16 193.48 L980.26 193.79 L982.36 193.81 L984.46 193.52 L986.56 193.62 L988.66 193.83 L990.76 193.59 L992.86 193.46 L994.96 193.37 L997.05 193.82 L999.15 193.75 L1001.25 193.54 L1001.8 193.61 L1006.8 193.1 L1011.8 193.49 L1013.85 193.85 L1015.95 193.68 L1018.05 193.47 L1020.15 193.36 L1022.25 193.59 L1024.35 193.54 L1026.45 193.75 L1028.55 193.71 L1030.64 193.65 L1032.74 193.43 L1034.84 193.43 L1036.94 193.51 L1039.04 193.48 L1041.14 193.78 L1043.24 193.61 L1045.34 193.67 L1047.44 193.85 L1049.54 193.48 L1051.64 193.62 L1053.74 193.43 L1055.84 193.74 L1057.94 193.35 L1058.4 193.76 L1063.4 193.1 L1068.4 193.76 L1068.43 193.39 L1070.53 193.48 L1072.63 193.71 L1074.73 193.4 L1076.83 193.59 L1078.93 193.58 L1081.03 193.83 L1083.13 193.64 L1085.23 193.78 L1087.33 193.5 L1089.43 193.74 L1091.53 193.56 L1093.63 193.81 L1095.73 193.4 L1097.83 193.76 L1099.92 193.45 L1102.02 193.62 L1104.12 193.61 L1106.22 193.43 L1108.32 193.77 L1110.42 193.51 L1112.52 193.51 L1114.6 193.39 L1119.6 193.1 L1124.6 193.58 L1125.12 193.71 L1127.22 193.53 L1129.32 193.69 L1131.41 193.4 L1133.51 193.55 L1135.61 193.58 L1137.71 193.83 L1139.81 193.76 L1141.91 193.68 L1144.01 193.36 L1146.11 193.54 L1148.21 193.71 L1150.31 193.47 L1152.41 193.63 L1154.51 193.58 L1156.61 193.36 L1158.71 193.85 L1160.81 193.75 L1162.91 193.45 L1165 193.66 L1167.1 193.5 L1169.2 193.54 L1171.3 193.62 L1171.6 193.5 L1176.6 193.1 L1181.6 193.55 L1181.8 193.68 L1181.8 218.6 L845.9 218.6 Z" fill="#5195ce" fill-opacity=".1"/><path d="M845.9 104.5 L1181.8 104.5" fill="none" stroke="#7eb26d" stroke-width="1.4" stroke-linejoin="round"/><path d="M845.9 193.1 L848 193.23 L850.1 193.49 L852.2 193.86 L854.3 193.94 L856.4 194.01 L858.5 194.1 L860.6 194.05 L862.69 193.99 L864.79 194.11 L866.89 194.08 L868.99 194.02 L871.09 193.91 L873.19 194.03 L875.29 193.99 L877.39 193.93 L879.49 193.89 L881.59 194.01 L883.69 193.91 L885.79 193.99 L887.89 194.04 L889.99 193.99 L892.09 193.94 L893.1 194 L897.5 190.2 L901.9 194 L902.58 194.01 L904.68 194.12 L906.78 194.11 L908.88 194.06 L910.98 193.94 L913.08 193.91 L915.18 194.09 L917.28 194.07 L919.38 194.03 L921.48 193.97 L923.58 193.95 L925.68 194.04 L927.78 194.02 L929.88 194.02 L931.97 194.03 L934.07 194.06 L936.17 193.93 L938.27 193.94 L940.37 194.12 L942.47 194.1 L944.57 194.09 L945.8 194 L950.2 190.2 L954.6 194 L955.07 193.98 L957.17 194.03 L959.27 193.9 L961.37 194.01 L963.46 193.9 L965.56 193.9 L967.66 194.04 L969.76 194.01 L971.86 194.03 L973.96 193.97 L976.06 193.99 L978.16 193.93 L980.26 193.96 L982.36 194.06 L984.46 194.08 L986.56 193.9 L988.66 193.91 L990.76 194.07 L992.86 194.03 L994.96 194.06 L997.05 193.93 L999.15 193.98 L1001.25 193.94 L1002.4 194 L1006.8 190.2 L1011.2 194 L1011.75 194.12 L1013.85 193.96 L1015.95 194.01 L1018.05 194.06 L1020.15 194.1 L1022.25 193.98 L1024.35 193.97 L1026.45 193.9 L1028.55 194.09 L1030.64 193.9 L1032.74 193.9 L1034.84 194.02 L1036.94 194 L1039.04 194.04 L1041.14 193.95 L1043.24 194.07 L1045.34 193.9 L1047.44 193.93 L1049.54 194.04 L1051.64 193.9 L1053.74 193.95 L1055.84 194.05 L1057.94 194.05 L1059 193.95 L1063.4 190.2 L1067.8 193.97 L1068.43 194.05 L1070.53 193.97 L1072.63 193.91 L1074.73 194.05 L1076.83 194.02 L1078.93 194.1 L1081.03 194.11 L1083.13 194.1 L1085.23 193.99 L1087.33 194.07 L1089.43 193.95 L1091.53 193.96 L1093.63 193.98 L1095.73 194.1 L1097.83 194.09 L1099.92 193.94 L1102.02 193.97 L1104.12 193.97 L1106.22 193.97 L1108.32 193.97 L1110.42 193.97 L1112.52 193.93 L1114.62 194.02 L1115.2 194.07 L1119.6 190.2 L1124 194.08 L1125.12 194.02 L1127.22 193.92 L1129.32 194.06 L1131.41 194.09 L1133.51 193.95 L1135.61 193.89 L1137.71 194 L1139.81 194.01 L1141.91 194.02 L1144.01 194.11 L1146.11 194.04 L1148.21 194.07 L1150.31 193.9 L1152.41 194.01 L1154.51 194.07 L1156.61 193.9 L1158.71 193.9 L1160.81 194.06 L1162.91 194.1 L1165 193.9 L1167.1 194.03 L1169.2 193.91 L1171.3 194.06 L1172.2 194.04 L1176.6 186 L1181 193.93 L1181.8 194.06" fill="none" stroke="#eab839" stroke-width="1.4" stroke-linejoin="round"/><path d="M845.9 186.34 L848 186.88 L850.1 187.02 L852.2 187.6 L854.3 187.92 L856.4 187.69 L858.5 187.72 L860.6 187.87 L862.69 187.73 L864.79 187.68 L866.89 187.9 L868.99 187.78 L871.09 187.89 L873.19 187.69 L875.29 187.77 L877.39 187.86 L879.49 187.66 L881.59 187.71 L883.69 187.85 L885.79 187.92 L887.89 187.94 L889.99 187.68 L892.09 187.8 L892.9 187.88 L897.5 183.8 L902.1 187.86 L902.58 187.71 L904.68 187.67 L906.78 187.68 L908.88 187.66 L910.98 187.82 L913.08 187.8 L915.18 187.82 L917.28 187.69 L919.38 187.71 L921.48 187.71 L923.58 187.9 L925.68 187.95 L927.78 187.93 L929.88 187.68 L931.97 187.67 L934.07 187.94 L936.17 187.79 L938.27 187.88 L940.37 187.75 L942.47 187.79 L944.57 187.8 L945.6 187.78 L950.2 183.8 L954.8 187.65 L955.07 187.86 L957.17 187.9 L959.27 187.7 L961.37 187.79 L963.46 187.87 L965.56 187.77 L967.66 187.71 L969.76 187.7 L971.86 187.8 L973.96 187.65 L976.06 187.92 L978.16 187.89 L980.26 187.86 L982.36 187.91 L984.46 187.84 L986.56 187.77 L988.66 187.83 L990.76 187.8 L992.86 187.94 L994.96 187.89 L997.05 187.73 L999.15 187.92 L1001.25 187.87 L1002.2 187.88 L1006.8 183.8 L1011.4 187.77 L1011.75 187.92 L1013.85 187.91 L1015.95 187.86 L1018.05 187.88 L1020.15 187.88 L1022.25 187.77 L1024.35 187.87 L1026.45 187.67 L1028.55 187.75 L1030.64 187.79 L1032.74 187.65 L1034.84 187.76 L1036.94 187.84 L1039.04 187.84 L1041.14 187.72 L1043.24 187.93 L1045.34 187.85 L1047.44 187.75 L1049.54 187.85 L1051.64 187.82 L1053.74 187.81 L1055.84 187.77 L1057.94 187.95 L1058.8 187.8 L1063.4 183.8 L1068 187.8 L1068.43 187.94 L1070.53 187.66 L1072.63 187.83 L1074.73 187.87 L1076.83 187.73 L1078.93 187.77 L1081.03 187.67 L1083.13 187.71 L1085.23 187.76 L1087.33 187.68 L1089.43 187.73 L1091.53 187.92 L1093.63 187.82 L1095.73 187.8 L1097.83 187.94 L1099.92 187.82 L1102.02 187.95 L1104.12 187.84 L1106.22 187.89 L1108.32 187.67 L1110.42 187.83 L1112.52 187.88 L1114.62 187.66 L1115 187.8 L1119.6 183.8 L1124.2 187.8 L1125.12 187.7 L1127.22 187.8 L1129.32 187.83 L1131.41 187.67 L1133.51 187.93 L1135.61 187.78 L1137.71 187.81 L1139.81 187.83 L1141.91 187.76 L1144.01 187.74 L1146.11 187.85 L1148.21 187.82 L1150.31 187.74 L1152.41 187.86 L1154.51 187.74 L1156.61 187.65 L1158.71 187.72 L1160.81 187.66 L1162.91 187.7 L1165 187.88 L1167.1 187.77 L1169.2 187.92 L1171.3 187.87 L1172 187.8 L1176.6 179.8 L1181.2 187.8 L1181.8 187.67" fill="none" stroke="#bf1b00" stroke-width="1.4" stroke-linejoin="round"/><path d="M845.9 193.61 L848 193.73 L850.1 193.55 L852.2 193.52 L854.3 193.83 L856.4 193.69 L858.5 193.6 L860.6 193.62 L862.69 193.71 L864.79 193.7 L866.89 193.81 L868.99 193.56 L871.09 193.76 L873.19 193.68 L875.29 193.78 L877.39 193.75 L879.49 193.77 L881.59 193.79 L883.69 193.83 L885.79 193.67 L887.89 193.61 L889.99 193.71 L892.09 193.75 L892.5 193.56 L897.5 193.1 L902.5 193.42 L902.58 193.72 L904.68 193.85 L906.78 193.54 L908.88 193.43 L910.98 193.45 L913.08 193.56 L915.18 193.5 L917.28 193.83 L919.38 193.38 L921.48 193.5 L923.58 193.41 L925.68 193.67 L927.78 193.74 L929.88 193.44 L931.97 193.38 L934.07 193.58 L936.17 193.64 L938.27 193.8 L940.37 193.37 L942.47 193.4 L944.57 193.44 L945.2 193.46 L950.2 193.1 L955.2 193.71 L957.17 193.65 L959.27 193.46 L961.37 193.44 L963.46 193.49 L965.56 193.44 L967.66 193.73 L969.76 193.51 L971.86 193.62 L973.96 193.76 L976.06 193.59 L978.16 193.48 L980.26 193.79 L982.36 193.81 L984.46 193.52 L986.56 193.62 L988.66 193.83 L990.76 193.59 L992.86 193.46 L994.96 193.37 L997.05 193.82 L999.15 193.75 L1001.25 193.54 L1001.8 193.61 L1006.8 193.1 L1011.8 193.49 L1013.85 193.85 L1015.95 193.68 L1018.05 193.47 L1020.15 193.36 L1022.25 193.59 L1024.35 193.54 L1026.45 193.75 L1028.55 193.71 L1030.64 193.65 L1032.74 193.43 L1034.84 193.43 L1036.94 193.51 L1039.04 193.48 L1041.14 193.78 L1043.24 193.61 L1045.34 193.67 L1047.44 193.85 L1049.54 193.48 L1051.64 193.62 L1053.74 193.43 L1055.84 193.74 L1057.94 193.35 L1058.4 193.76 L1063.4 193.1 L1068.4 193.76 L1068.43 193.39 L1070.53 193.48 L1072.63 193.71 L1074.73 193.4 L1076.83 193.59 L1078.93 193.58 L1081.03 193.83 L1083.13 193.64 L1085.23 193.78 L1087.33 193.5 L1089.43 193.74 L1091.53 193.56 L1093.63 193.81 L1095.73 193.4 L1097.83 193.76 L1099.92 193.45 L1102.02 193.62 L1104.12 193.61 L1106.22 193.43 L1108.32 193.77 L1110.42 193.51 L1112.52 193.51 L1114.6 193.39 L1119.6 193.1 L1124.6 193.58 L1125.12 193.71 L1127.22 193.53 L1129.32 193.69 L1131.41 193.4 L1133.51 193.55 L1135.61 193.58 L1137.71 193.83 L1139.81 193.76 L1141.91 193.68 L1144.01 193.36 L1146.11 193.54 L1148.21 193.71 L1150.31 193.47 L1152.41 193.63 L1154.51 193.58 L1156.61 193.36 L1158.71 193.85 L1160.81 193.75 L1162.91 193.45 L1165 193.66 L1167.1 193.5 L1169.2 193.54 L1171.3 193.62 L1171.6 193.5 L1176.6 193.1 L1181.6 193.55 L1181.8 193.68" fill="none" stroke="#5195ce" stroke-width="1.4" stroke-linejoin="round"/><text transform="translate(812.8 157.2) rotate(-90)" text-anchor="middle" textLength="27.6" lengthAdjust="spacingAndGlyphs" style="font-size:6.9px;stroke:#d8d9da;stroke-width:.18px">Memory</text></svg>
<div class="t" style="left:823.48px;top:83.2px;font-size:6.6px;color:#d8d9da;transform:scaleX(0.9100);transform-origin:100% 50%;-webkit-text-stroke:0.22px #d8d9da">1.3 TB</div>
<div class="t" style="left:823.48px;top:109.26px;font-size:6.6px;color:#d8d9da;transform:scaleX(0.9100);transform-origin:100% 50%;-webkit-text-stroke:0.22px #d8d9da">1.0 TB</div>
<div class="t" style="left:820.42px;top:135.32px;font-size:6.6px;color:#d8d9da;transform:scaleX(0.9100);transform-origin:100% 50%;-webkit-text-stroke:0.22px #d8d9da">750 GB</div>
<div class="t" style="left:820.42px;top:161.38px;font-size:6.6px;color:#d8d9da;transform:scaleX(0.9100);transform-origin:100% 50%;-webkit-text-stroke:0.22px #d8d9da">500 GB</div>
<div class="t" style="left:820.42px;top:187.44px;font-size:6.6px;color:#d8d9da;transform:scaleX(0.9100);transform-origin:100% 50%;-webkit-text-stroke:0.22px #d8d9da">250 GB</div>
<div class="t" style="left:832.89px;top:213.5px;font-size:6.6px;color:#d8d9da;transform:scaleX(0.9100);transform-origin:100% 50%;-webkit-text-stroke:0.22px #d8d9da">0 B</div>
<div class="t" style="left:881.24px;top:221.9px;font-size:6.6px;color:#d8d9da;transform:scaleX(1.0000);transform-origin:50% 50%;-webkit-text-stroke:0.22px #d8d9da">12:30</div>
<div class="t" style="left:937.44px;top:221.9px;font-size:6.6px;color:#d8d9da;transform:scaleX(1.0000);transform-origin:50% 50%;-webkit-text-stroke:0.22px #d8d9da">13:00</div>
<div class="t" style="left:993.64px;top:221.9px;font-size:6.6px;color:#d8d9da;transform:scaleX(1.0000);transform-origin:50% 50%;-webkit-text-stroke:0.22px #d8d9da">13:30</div>
<div class="t" style="left:1049.54px;top:221.9px;font-size:6.6px;color:#d8d9da;transform:scaleX(1.0000);transform-origin:50% 50%;-webkit-text-stroke:0.22px #d8d9da">14:00</div>
<div class="t" style="left:1105.34px;top:221.9px;font-size:6.6px;color:#d8d9da;transform:scaleX(1.0000);transform-origin:50% 50%;-webkit-text-stroke:0.22px #d8d9da">14:30</div>
<div class="t" style="left:1161.44px;top:221.9px;font-size:6.6px;color:#d8d9da;transform:scaleX(1.0000);transform-origin:50% 50%;-webkit-text-stroke:0.22px #d8d9da">15:00</div>
<svg style="left:816.5px;top:238.3px" width="6.2" height="4" viewBox="0 0 6.2 4"><rect x="0" y="1.2" width="6.2" height="1.6" rx=".5" fill="#7eb26d"/></svg>
<div class="t" style="left:825.4px;top:234.9px;font-size:6.5px;color:#d8d9da;transform:scaleX(0.9900);transform-origin:0 50%;-webkit-text-stroke:0.25px #d8d9da">Allocatable RAM</div>
<svg style="left:879.7px;top:238.3px" width="6.2" height="4" viewBox="0 0 6.2 4"><rect x="0" y="1.2" width="6.2" height="1.6" rx=".5" fill="#eab839"/></svg>
<div class="t" style="left:888.3px;top:234.9px;font-size:6.5px;color:#d8d9da;transform:scaleX(0.9900);transform-origin:0 50%;-webkit-text-stroke:0.25px #d8d9da">Requested RAM</div>
<svg style="left:940.8px;top:238.3px" width="6.2" height="4" viewBox="0 0 6.2 4"><rect x="0" y="1.2" width="6.2" height="1.6" rx=".5" fill="#bf1b00"/></svg>
<div class="t" style="left:949.8px;top:234.9px;font-size:6.5px;color:#d8d9da;transform:scaleX(0.9900);transform-origin:0 50%;-webkit-text-stroke:0.25px #d8d9da">Limit RAM</div>
<svg style="left:985.9px;top:238.3px" width="6.2" height="4" viewBox="0 0 6.2 4"><rect x="0" y="1.2" width="6.2" height="1.6" rx=".5" fill="#5195ce"/></svg>
<div class="t" style="left:995px;top:234.9px;font-size:6.5px;color:#d8d9da;transform:scaleX(0.9900);transform-origin:0 50%;-webkit-text-stroke:0.25px #d8d9da">Usage RAM</div>
<div class="panel" style="left:6.8px;top:278.8px;width:1188.4px;height:181.1px">
<div class="rh"></div></div>
<div class="t" style="left:582.84px;top:281.6px;font-size:7.6px;color:#e6e6e6;transform:scaleX(0.9690);transform-origin:50% 50%;-webkit-text-stroke:0.36px #e6e6e6">Node CPU</div>
<div class="a" style="left:12.3px;top:294.8px;width:1178.3px;height:15.5px;background:#2c2c30;border-top:1.5px solid #18181a;border-bottom:1.7px solid #18181a"></div>
<div class="t" style="left:21.1px;top:298.5px;font-size:7.5px;color:#33b5e5;transform:scaleX(1.0151);transform-origin:0 50%;-webkit-text-stroke:0.34px #33b5e5">Node</div>
<svg style="left:41.6px;top:303px" width="4.1" height="2.3" viewBox="0 0 4.1 2.3"><polygon points="0,2.3 4.1,2.3 2.05,0" fill="#33b5e5"/></svg>
<div class="t" style="left:183.6px;top:298.5px;font-size:7.5px;color:#33b5e5;transform:scaleX(0.9954);transform-origin:0 50%;-webkit-text-stroke:0.34px #33b5e5">Requested Cores</div>
<div class="t" style="left:377.8px;top:298.5px;font-size:7.5px;color:#33b5e5;transform:scaleX(1.0283);transform-origin:0 50%;-webkit-text-stroke:0.34px #33b5e5">Limit Cores</div>
<div class="t" style="left:517.8px;top:298.5px;font-size:7.5px;color:#33b5e5;transform:scaleX(1.0207);transform-origin:0 50%;-webkit-text-stroke:0.34px #33b5e5">Allocatable Cores</div>
<div class="t" style="left:719px;top:298.5px;font-size:7.5px;color:#33b5e5;transform:scaleX(0.9617);transform-origin:0 50%;-webkit-text-stroke:0.34px #33b5e5">CPU Reserved</div>
<div class="t" style="left:885.6px;top:298.5px;font-size:7.5px;color:#33b5e5;transform:scaleX(0.9878);transform-origin:0 50%;-webkit-text-stroke:0.34px #33b5e5">CPU Burstable</div>
<div class="t" style="left:1054.8px;top:298.5px;font-size:7.5px;color:#33b5e5;transform:scaleX(0.9596);transform-origin:0 50%;-webkit-text-stroke:0.34px #33b5e5">CPU Usage</div>
<div class="cell" style="left:12.3px;top:311.3px;width:163px;height:18.28px;border-bottom:.8px solid #161618"></div>
<div class="t" style="left:21.1px;top:315.14px;font-size:7.5px;color:#d8d9da;transform:scaleX(1.0050);transform-origin:0 50%;-webkit-text-stroke:0.3px #d8d9da">worker-01</div>
<div class="cell" style="left:174.9px;top:311.3px;width:194.6px;height:18.28px;border-bottom:.8px solid #161618;border-left:.8px solid #161618"></div>
<div class="t" style="left:183.6px;top:315.14px;font-size:7.5px;color:#d8d9da;transform:scaleX(1.0050);transform-origin:0 50%;-webkit-text-stroke:0.3px #d8d9da">3.11</div>
<div class="cell" style="left:369.1px;top:311.3px;width:140.4px;height:18.28px;border-bottom:.8px solid #161618;border-left:.8px solid #161618"></div>
<div class="t" style="left:377.8px;top:315.14px;font-size:7.5px;color:#d8d9da;transform:scaleX(1.0050);transform-origin:0 50%;-webkit-text-stroke:0.3px #d8d9da">3.10</div>
<div class="cell" style="left:509.1px;top:311.3px;width:201.6px;height:18.28px;border-bottom:.8px solid #161618;border-left:.8px solid #161618"></div>
<div class="t" style="left:517.8px;top:315.14px;font-size:7.5px;color:#d8d9da;transform:scaleX(1.0050);transform-origin:0 50%;-webkit-text-stroke:0.3px #d8d9da">8.00</div>
<div class="cell" style="left:710.7px;top:311.3px;width:166.6px;height:18.28px;background:#32a82d;border-bottom:.7px solid #1b4f15"></div>
<div class="t" style="left:719.3px;top:315.14px;font-size:7.5px;color:#fff;transform:scaleX(0.9550);transform-origin:0 50%;-webkit-text-stroke:0.45px #fff">38.88%</div>
<div class="cell" style="left:876.9px;top:311.3px;width:169.6px;height:18.28px;background:#32a82d;border-bottom:.7px solid #1b4f15;border-left:.7px solid #1b4f15"></div>
<div class="t" style="left:885.9px;top:315.14px;font-size:7.5px;color:#fff;transform:scaleX(0.9550);transform-origin:0 50%;-webkit-text-stroke:0.45px #fff">38.75%</div>
<div class="cell" style="left:1046.1px;top:311.3px;width:139.2px;height:18.28px;background:#32a82d;border-bottom:.7px solid #1b4f15;border-left:.7px solid #1b4f15"></div>
<div class="t" style="left:1055.1px;top:315.14px;font-size:7.5px;color:#fff;transform:scaleX(0.9550);transform-origin:0 50%;-webkit-text-stroke:0.45px #fff">5.53%</div>
<div class="cell" style="left:12.3px;top:329.58px;width:163px;height:18.28px;border-bottom:.8px solid #161618"></div>
<div class="t" style="left:21.1px;top:333.42px;font-size:7.5px;color:#d8d9da;transform:scaleX(1.0050);transform-origin:0 50%;-webkit-text-stroke:0.3px #d8d9da">worker-02</div>
<div class="cell" style="left:174.9px;top:329.58px;width:194.6px;height:18.28px;border-bottom:.8px solid #161618;border-left:.8px solid #161618"></div>
<div class="t" style="left:183.6px;top:333.42px;font-size:7.5px;color:#d8d9da;transform:scaleX(1.0050);transform-origin:0 50%;-webkit-text-stroke:0.3px #d8d9da">0.85</div>
<div class="cell" style="left:369.1px;top:329.58px;width:140.4px;height:18.28px;border-bottom:.8px solid #161618;border-left:.8px solid #161618"></div>
<div class="t" style="left:377.8px;top:333.42px;font-size:7.5px;color:#d8d9da;transform:scaleX(1.0050);transform-origin:0 50%;-webkit-text-stroke:0.3px #d8d9da">1.10</div>
<div class="cell" style="left:509.1px;top:329.58px;width:201.6px;height:18.28px;border-bottom:.8px solid #161618;border-left:.8px solid #161618"></div>
<div class="t" style="left:517.8px;top:333.42px;font-size:7.5px;color:#d8d9da;transform:scaleX(1.0050);transform-origin:0 50%;-webkit-text-stroke:0.3px #d8d9da">8.00</div>
<div class="cell" style="left:710.7px;top:329.58px;width:166.6px;height:18.28px;background:#32a82d;border-bottom:.7px solid #1b4f15"></div>
<div class="t" style="left:719.3px;top:333.42px;font-size:7.5px;color:#fff;transform:scaleX(0.9550);transform-origin:0 50%;-webkit-text-stroke:0.45px #fff">10.63%</div>
<div class="cell" style="left:876.9px;top:329.58px;width:169.6px;height:18.28px;background:#32a82d;border-bottom:.7px solid #1b4f15;border-left:.7px solid #1b4f15"></div>
<div class="t" style="left:885.9px;top:333.42px;font-size:7.5px;color:#fff;transform:scaleX(0.9550);transform-origin:0 50%;-webkit-text-stroke:0.45px #fff">13.75%</div>
<div class="cell" style="left:1046.1px;top:329.58px;width:139.2px;height:18.28px;background:#32a82d;border-bottom:.7px solid #1b4f15;border-left:.7px solid #1b4f15"></div>
<div class="t" style="left:1055.1px;top:333.42px;font-size:7.5px;color:#fff;transform:scaleX(0.9550);transform-origin:0 50%;-webkit-text-stroke:0.45px #fff">11.11%</div>
<div class="cell" style="left:12.3px;top:347.86px;width:163px;height:18.28px;border-bottom:.8px solid #161618"></div>
<div class="t" style="left:21.1px;top:351.7px;font-size:7.5px;color:#d8d9da;transform:scaleX(1.0050);transform-origin:0 50%;-webkit-text-stroke:0.3px #d8d9da">worker-03</div>
<div class="cell" style="left:174.9px;top:347.86px;width:194.6px;height:18.28px;border-bottom:.8px solid #161618;border-left:.8px solid #161618"></div>
<div class="t" style="left:183.6px;top:351.7px;font-size:7.5px;color:#d8d9da;transform:scaleX(1.0050);transform-origin:0 50%;-webkit-text-stroke:0.3px #d8d9da">1.95</div>
<div class="cell" style="left:369.1px;top:347.86px;width:140.4px;height:18.28px;border-bottom:.8px solid #161618;border-left:.8px solid #161618"></div>
<div class="t" style="left:377.8px;top:351.7px;font-size:7.5px;color:#d8d9da;transform:scaleX(1.0050);transform-origin:0 50%;-webkit-text-stroke:0.3px #d8d9da">2.10</div>
<div class="cell" style="left:509.1px;top:347.86px;width:201.6px;height:18.28px;border-bottom:.8px solid #161618;border-left:.8px solid #161618"></div>
<div class="t" style="left:517.8px;top:351.7px;font-size:7.5px;color:#d8d9da;transform:scaleX(1.0050);transform-origin:0 50%;-webkit-text-stroke:0.3px #d8d9da">8.00</div>
<div class="cell" style="left:710.7px;top:347.86px;width:166.6px;height:18.28px;background:#32a82d;border-bottom:.7px solid #1b4f15"></div>
<div class="t" style="left:719.3px;top:351.7px;font-size:7.5px;color:#fff;transform:scaleX(0.9550);transform-origin:0 50%;-webkit-text-stroke:0.45px #fff">26.88%</div>
<div class="cell" style="left:876.9px;top:347.86px;width:169.6px;height:18.28px;background:#32a82d;border-bottom:.7px solid #1b4f15;border-left:.7px solid #1b4f15"></div>
<div class="t" style="left:885.9px;top:351.7px;font-size:7.5px;color:#fff;transform:scaleX(0.9550);transform-origin:0 50%;-webkit-text-stroke:0.45px #fff">26.25%</div>
<div class="cell" style="left:1046.1px;top:347.86px;width:139.2px;height:18.28px;background:#32a82d;border-bottom:.7px solid #1b4f15;border-left:.7px solid #1b4f15"></div>
<div class="t" style="left:1055.1px;top:351.7px;font-size:7.5px;color:#fff;transform:scaleX(0.9550);transform-origin:0 50%;-webkit-text-stroke:0.45px #fff">6.20%</div>
<div class="cell" style="left:12.3px;top:366.14px;width:163px;height:18.28px;border-bottom:.8px solid #161618"></div>
<div class="t" style="left:21.1px;top:369.98px;font-size:7.5px;color:#d8d9da;transform:scaleX(1.0050);transform-origin:0 50%;-webkit-text-stroke:0.3px #d8d9da">worker-04</div>
<div class="cell" style="left:174.9px;top:366.14px;width:194.6px;height:18.28px;border-bottom:.8px solid #161618;border-left:.8px solid #161618"></div>
<div class="t" style="left:183.6px;top:369.98px;font-size:7.5px;color:#d8d9da;transform:scaleX(1.0050);transform-origin:0 50%;-webkit-text-stroke:0.3px #d8d9da">3.95</div>
<div class="cell" style="left:369.1px;top:366.14px;width:140.4px;height:18.28px;border-bottom:.8px solid #161618;border-left:.8px solid #161618"></div>
<div class="t" style="left:377.8px;top:369.98px;font-size:7.5px;color:#d8d9da;transform:scaleX(1.0050);transform-origin:0 50%;-webkit-text-stroke:0.3px #d8d9da">6.60</div>
<div class="cell" style="left:509.1px;top:366.14px;width:201.6px;height:18.28px;border-bottom:.8px solid #161618;border-left:.8px solid #161618"></div>
<div class="t" style="left:517.8px;top:369.98px;font-size:7.5px;color:#d8d9da;transform:scaleX(1.0050);transform-origin:0 50%;-webkit-text-stroke:0.3px #d8d9da">8.00</div>
<div class="cell" style="left:710.7px;top:366.14px;width:166.6px;height:18.28px;background:#32a82d;border-bottom:.7px solid #1b4f15"></div>
<div class="t" style="left:719.3px;top:369.98px;font-size:7.5px;color:#fff;transform:scaleX(0.9550);transform-origin:0 50%;-webkit-text-stroke:0.45px #fff">49.38%</div>
<div class="cell" style="left:876.9px;top:366.14px;width:169.6px;height:18.28px;background:#32a82d;border-bottom:.7px solid #1b4f15;border-left:.7px solid #1b4f15"></div>
<div class="t" style="left:885.9px;top:369.98px;font-size:7.5px;color:#fff;transform:scaleX(0.9550);transform-origin:0 50%;-webkit-text-stroke:0.45px #fff">82.50%</div>
<div class="cell" style="left:1046.1px;top:366.14px;width:139.2px;height:18.28px;background:#32a82d;border-bottom:.7px solid #1b4f15;border-left:.7px solid #1b4f15"></div>
<div class="t" style="left:1055.1px;top:369.98px;font-size:7.5px;color:#fff;transform:scaleX(0.9550);transform-origin:0 50%;-webkit-text-stroke:0.45px #fff">8.34%</div>
<div class="cell" style="left:12.3px;top:384.42px;width:163px;height:18.28px;border-bottom:.8px solid #161618"></div>
<div class="t" style="left:21.1px;top:388.26px;font-size:7.5px;color:#d8d9da;transform:scaleX(1.0050);transform-origin:0 50%;-webkit-text-stroke:0.3px #d8d9da">worker-05</div>
<div class="cell" style="left:174.9px;top:384.42px;width:194.6px;height:18.28px;border-bottom:.8px solid #161618;border-left:.8px solid #161618"></div>
<div class="t" style="left:183.6px;top:388.26px;font-size:7.5px;color:#d8d9da;transform:scaleX(1.0050);transform-origin:0 50%;-webkit-text-stroke:0.3px #d8d9da">3.21</div>
<div class="cell" style="left:369.1px;top:384.42px;width:140.4px;height:18.28px;border-bottom:.8px solid #161618;border-left:.8px solid #161618"></div>
<div class="t" style="left:377.8px;top:388.26px;font-size:7.5px;color:#d8d9da;transform:scaleX(1.0050);transform-origin:0 50%;-webkit-text-stroke:0.3px #d8d9da">2.10</div>
<div class="cell" style="left:509.1px;top:384.42px;width:201.6px;height:18.28px;border-bottom:.8px solid #161618;border-left:.8px solid #161618"></div>
<div class="t" style="left:517.8px;top:388.26px;font-size:7.5px;color:#d8d9da;transform:scaleX(1.0050);transform-origin:0 50%;-webkit-text-stroke:0.3px #d8d9da">8.00</div>
<div class="cell" style="left:710.7px;top:384.42px;width:166.6px;height:18.28px;background:#32a82d;border-bottom:.7px solid #1b4f15"></div>
<div class="t" style="left:719.3px;top:388.26px;font-size:7.5px;color:#fff;transform:scaleX(0.9550);transform-origin:0 50%;-webkit-text-stroke:0.45px #fff">40.13%</div>
<div class="cell" style="left:876.9px;top:384.42px;width:169.6px;height:18.28px;background:#32a82d;border-bottom:.7px solid #1b4f15;border-left:.7px solid #1b4f15"></div>
<div class="t" style="left:885.9px;top:388.26px;font-size:7.5px;color:#fff;transform:scaleX(0.9550);transform-origin:0 50%;-webkit-text-stroke:0.45px #fff">26.25%</div>
<div class="cell" style="left:1046.1px;top:384.42px;width:139.2px;height:18.28px;background:#32a82d;border-bottom:.7px solid #1b4f15;border-left:.7px solid #1b4f15"></div>
<div class="t" style="left:1055.1px;top:388.26px;font-size:7.5px;color:#fff;transform:scaleX(0.9550);transform-origin:0 50%;-webkit-text-stroke:0.45px #fff">6.21%</div>
<div class="cell" style="left:12.3px;top:402.7px;width:163px;height:18.28px;border-bottom:.8px solid #161618"></div>
<div class="t" style="left:21.1px;top:406.54px;font-size:7.5px;color:#d8d9da;transform:scaleX(1.0050);transform-origin:0 50%;-webkit-text-stroke:0.3px #d8d9da">worker-06</div>
<div class="cell" style="left:174.9px;top:402.7px;width:194.6px;height:18.28px;border-bottom:.8px solid #161618;border-left:.8px solid #161618"></div>
<div class="t" style="left:183.6px;top:406.54px;font-size:7.5px;color:#d8d9da;transform:scaleX(1.0050);transform-origin:0 50%;-webkit-text-stroke:0.3px #d8d9da">2.85</div>
<div class="cell" style="left:369.1px;top:402.7px;width:140.4px;height:18.28px;border-bottom:.8px solid #161618;border-left:.8px solid #161618"></div>
<div class="t" style="left:377.8px;top:406.54px;font-size:7.5px;color:#d8d9da;transform:scaleX(1.0050);transform-origin:0 50%;-webkit-text-stroke:0.3px #d8d9da">2.10</div>
<div class="cell" style="left:509.1px;top:402.7px;width:201.6px;height:18.28px;border-bottom:.8px solid #161618;border-left:.8px solid #161618"></div>
<div class="t" style="left:517.8px;top:406.54px;font-size:7.5px;color:#d8d9da;transform:scaleX(1.0050);transform-origin:0 50%;-webkit-text-stroke:0.3px #d8d9da">8.00</div>
<div class="cell" style="left:710.7px;top:402.7px;width:166.6px;height:18.28px;background:#32a82d;border-bottom:.7px solid #1b4f15"></div>
<div class="t" style="left:719.3px;top:406.54px;font-size:7.5px;color:#fff;transform:scaleX(0.9550);transform-origin:0 50%;-webkit-text-stroke:0.45px #fff">35.63%</div>
<div class="cell" style="left:876.9px;top:402.7px;width:169.6px;height:18.28px;background:#32a82d;border-bottom:.7px solid #1b4f15;border-left:.7px solid #1b4f15"></div>
<div class="t" style="left:885.9px;top:406.54px;font-size:7.5px;color:#fff;transform:scaleX(0.9550);transform-origin:0 50%;-webkit-text-stroke:0.45px #fff">26.25%</div>
<div class="cell" style="left:1046.1px;top:402.7px;width:139.2px;height:18.28px;background:#32a82d;border-bottom:.7px solid #1b4f15;border-left:.7px solid #1b4f15"></div>
<div class="t" style="left:1055.1px;top:406.54px;font-size:7.5px;color:#fff;transform:scaleX(0.9550);transform-origin:0 50%;-webkit-text-stroke:0.45px #fff">5.53%</div>
<div class="cell" style="left:12.3px;top:420.98px;width:163px;height:18.28px;border-bottom:.8px solid #161618"></div>
<div class="t" style="left:21.1px;top:424.82px;font-size:7.5px;color:#d8d9da;transform:scaleX(1.0050);transform-origin:0 50%;-webkit-text-stroke:0.3px #d8d9da">worker-07</div>
<div class="cell" style="left:174.9px;top:420.98px;width:194.6px;height:18.28px;border-bottom:.8px solid #161618;border-left:.8px solid #161618"></div>
<div class="t" style="left:183.6px;top:424.82px;font-size:7.5px;color:#d8d9da;transform:scaleX(1.0050);transform-origin:0 50%;-webkit-text-stroke:0.3px #d8d9da">7.11</div>
<div class="cell" style="left:369.1px;top:420.98px;width:140.4px;height:18.28px;border-bottom:.8px solid #161618;border-left:.8px solid #161618"></div>
<div class="t" style="left:377.8px;top:424.82px;font-size:7.5px;color:#d8d9da;transform:scaleX(1.0050);transform-origin:0 50%;-webkit-text-stroke:0.3px #d8d9da">5.10</div>
<div class="cell" style="left:509.1px;top:420.98px;width:201.6px;height:18.28px;border-bottom:.8px solid #161618;border-left:.8px solid #161618"></div>
<div class="t" style="left:517.8px;top:424.82px;font-size:7.5px;color:#d8d9da;transform:scaleX(1.0050);transform-origin:0 50%;-webkit-text-stroke:0.3px #d8d9da">8.00</div>
<div class="cell" style="left:710.7px;top:420.98px;width:166.6px;height:18.28px;background:#e03434;border-bottom:.7px solid #1b4f15"></div>
<div class="t" style="left:719.3px;top:424.82px;font-size:7.5px;color:#fff;transform:scaleX(0.9550);transform-origin:0 50%;-webkit-text-stroke:0.45px #fff">88.88%</div>
<div class="cell" style="left:876.9px;top:420.98px;width:169.6px;height:18.28px;background:#32a82d;border-bottom:.7px solid #1b4f15;border-left:.7px solid #1b4f15"></div>
<div class="t" style="left:885.9px;top:424.82px;font-size:7.5px;color:#fff;transform:scaleX(0.9550);transform-origin:0 50%;-webkit-text-stroke:0.45px #fff">63.75%</div>
<div class="cell" style="left:1046.1px;top:420.98px;width:139.2px;height:18.28px;background:#32a82d;border-bottom:.7px solid #1b4f15;border-left:.7px solid #1b4f15"></div>
<div class="t" style="left:1055.1px;top:424.82px;font-size:7.5px;color:#fff;transform:scaleX(0.9550);transform-origin:0 50%;-webkit-text-stroke:0.45px #fff">4.54%</div>
<div class="cell" style="left:12.3px;top:439.26px;width:163px;height:18.28px;border-bottom:.8px solid #161618"></div>
<div class="t" style="left:21.1px;top:443.1px;font-size:7.5px;color:#d8d9da;transform:scaleX(1.0050);transform-origin:0 50%;-webkit-text-stroke:0.3px #d8d9da">worker-08</div>
<div class="cell" style="left:174.9px;top:439.26px;width:194.6px;height:18.28px;border-bottom:.8px solid #161618;border-left:.8px solid #161618"></div>
<div class="t" style="left:183.6px;top:443.1px;font-size:7.5px;color:#d8d9da;transform:scaleX(1.0050);transform-origin:0 50%;-webkit-text-stroke:0.3px #d8d9da">2.15</div>
<div class="cell" style="left:369.1px;top:439.26px;width:140.4px;height:18.28px;border-bottom:.8px solid #161618;border-left:.8px solid #161618"></div>
<div class="t" style="left:377.8px;top:443.1px;font-size:7.5px;color:#d8d9da;transform:scaleX(1.0050);transform-origin:0 50%;-webkit-text-stroke:0.3px #d8d9da">2.10</div>
<div class="cell" style="left:509.1px;top:439.26px;width:201.6px;height:18.28px;border-bottom:.8px solid #161618;border-left:.8px solid #161618"></div>
<div class="t" style="left:517.8px;top:443.1px;font-size:7.5px;color:#d8d9da;transform:scaleX(1.0050);transform-origin:0 50%;-webkit-text-stroke:0.3px #d8d9da">8.00</div>
<div class="cell" style="left:710.7px;top:439.26px;width:166.6px;height:18.28px;background:#32a82d;border-bottom:.7px solid #1b4f15"></div>
<div class="t" style="left:719.3px;top:443.1px;font-size:7.5px;color:#fff;transform:scaleX(0.9550);transform-origin:0 50%;-webkit-text-stroke:0.45px #fff">28.13%</div>
<div class="cell" style="left:876.9px;top:439.26px;width:169.6px;height:18.28px;background:#32a82d;border-bottom:.7px solid #1b4f15;border-left:.7px solid #1b4f15"></div>
<div class="t" style="left:885.9px;top:443.1px;font-size:7.5px;color:#fff;transform:scaleX(0.9550);transform-origin:0 50%;-webkit-text-stroke:0.45px #fff">26.25%</div>
<div class="cell" style="left:1046.1px;top:439.26px;width:139.2px;height:18.28px;background:#32a82d;border-bottom:.7px solid #1b4f15;border-left:.7px solid #1b4f15"></div>
<div class="t" style="left:1055.1px;top:443.1px;font-size:7.5px;color:#fff;transform:scaleX(0.9550);transform-origin:0 50%;-webkit-text-stroke:0.45px #fff">6.95%</div>
<div class="a" style="left:1185.7px;top:311.3px;width:4.5px;height:147.6px;background:#161618"></div>
<div class="a" style="left:1186.5px;top:311.7px;width:3.2px;height:31px;background:#6e6e72;border-radius:1.5px"></div>
<div class="panel" style="left:6.8px;top:467px;width:1188.4px;height:181.1px">
<div class="rh"></div></div>
<div class="t" style="left:575.44px;top:469.8px;font-size:7.6px;color:#e6e6e6;transform:scaleX(0.9920);transform-origin:50% 50%;-webkit-text-stroke:0.36px #e6e6e6">Container CPU</div>
<div class="a" style="left:12.3px;top:483px;width:1178.3px;height:15.5px;background:#2c2c30;border-top:1.5px solid #18181a;border-bottom:1.7px solid #18181a"></div>
<div class="t" style="left:21.1px;top:486.7px;font-size:7.5px;color:#33b5e5;transform:scaleX(0.9742);transform-origin:0 50%;-webkit-text-stroke:0.34px #33b5e5">Pod</div>
<div class="t" style="left:529px;top:486.7px;font-size:7.5px;color:#33b5e5;transform:scaleX(1.0209);transform-origin:0 50%;-webkit-text-stroke:0.34px #33b5e5">Container</div>
<div class="t" style="left:701.6px;top:486.7px;font-size:7.5px;color:#33b5e5;transform:scaleX(1.0195);transform-origin:0 50%;-webkit-text-stroke:0.34px #33b5e5">Namespace</div>
<div class="t" style="left:814.3px;top:486.7px;font-size:7.5px;color:#33b5e5;transform:scaleX(0.9954);transform-origin:0 50%;-webkit-text-stroke:0.34px #33b5e5">Requested Cores</div>
<div class="t" style="left:966px;top:486.7px;font-size:7.5px;color:#33b5e5;transform:scaleX(1.0283);transform-origin:0 50%;-webkit-text-stroke:0.34px #33b5e5">Limit Cores</div>
<div class="t" style="left:1075px;top:486.7px;font-size:7.5px;color:#33b5e5;transform:scaleX(0.9893);transform-origin:0 50%;-webkit-text-stroke:0.34px #33b5e5">Usage Cores</div>
<svg style="left:1120.6px;top:491.5px" width="4.1" height="2.3" viewBox="0 0 4.1 2.3"><polygon points="0,0 4.1,0 2.05,2.3" fill="#33b5e5"/></svg>
<div class="cell" style="left:12.3px;top:499.5px;width:508.4px;height:18.28px;border-bottom:.8px solid #161618"></div>
<div class="t" style="left:21.1px;top:504.04px;font-size:7.5px;color:#d8d9da;transform:scaleX(1.0050);transform-origin:0 50%;-webkit-text-stroke:0.3px #d8d9da">stesla-preprocessor-5cd75cd68c-gvzl6-exec-3</div>
<div class="cell" style="left:520.3px;top:499.5px;width:173px;height:18.28px;border-bottom:.8px solid #161618;border-left:.8px solid #161618"></div>
<div class="t" style="left:529px;top:504.04px;font-size:7.5px;color:#d8d9da;transform:scaleX(1.0050);transform-origin:0 50%;-webkit-text-stroke:0.3px #d8d9da">executor</div>
<div class="cell" style="left:692.9px;top:499.5px;width:113.1px;height:18.28px;border-bottom:.8px solid #161618;border-left:.8px solid #161618"></div>
<div class="t" style="left:701.6px;top:504.04px;font-size:7.5px;color:#d8d9da;transform:scaleX(1.0050);transform-origin:0 50%;-webkit-text-stroke:0.3px #d8d9da">production</div>
<div class="cell" style="left:805.6px;top:499.5px;width:152.1px;height:18.28px;border-bottom:.8px solid #161618;border-left:.8px solid #161618"></div>
<div class="t" style="left:814.3px;top:504.04px;font-size:7.5px;color:#d8d9da;transform:scaleX(1.0050);transform-origin:0 50%;-webkit-text-stroke:0.3px #d8d9da">24.00</div>
<div class="cell" style="left:957.3px;top:499.5px;width:109.4px;height:18.28px;border-bottom:.8px solid #161618;border-left:.8px solid #161618"></div>
<div class="t" style="left:966px;top:504.04px;font-size:7.5px;color:#d8d9da;transform:scaleX(1.0050);transform-origin:0 50%;-webkit-text-stroke:0.3px #d8d9da">0</div>
<div class="cell" style="left:1066.3px;top:499.5px;width:119px;height:18.28px;border-bottom:.8px solid #161618;border-left:.8px solid #161618"></div>
<div class="t" style="left:1075px;top:504.04px;font-size:7.5px;color:#d8d9da;transform:scaleX(1.0050);transform-origin:0 50%;-webkit-text-stroke:0.3px #d8d9da">2.64</div>
<div class="cell" style="left:12.3px;top:517.78px;width:508.4px;height:18.28px;border-bottom:.8px solid #161618"></div>
<div class="t" style="left:21.1px;top:522.32px;font-size:7.5px;color:#d8d9da;transform:scaleX(1.0050);transform-origin:0 50%;-webkit-text-stroke:0.3px #d8d9da">stesla-preprocessor-5cd75cd68c-gvzl6-exec-1</div>
<div class="cell" style="left:520.3px;top:517.78px;width:173px;height:18.28px;border-bottom:.8px solid #161618;border-left:.8px solid #161618"></div>
<div class="t" style="left:529px;top:522.32px;font-size:7.5px;color:#d8d9da;transform:scaleX(1.0050);transform-origin:0 50%;-webkit-text-stroke:0.3px #d8d9da">executor</div>
<div class="cell" style="left:692.9px;top:517.78px;width:113.1px;height:18.28px;border-bottom:.8px solid #161618;border-left:.8px solid #161618"></div>
<div class="t" style="left:701.6px;top:522.32px;font-size:7.5px;color:#d8d9da;transform:scaleX(1.0050);transform-origin:0 50%;-webkit-text-stroke:0.3px #d8d9da">production</div>
<div class="cell" style="left:805.6px;top:517.78px;width:152.1px;height:18.28px;border-bottom:.8px solid #161618;border-left:.8px solid #161618"></div>
<div class="t" style="left:814.3px;top:522.32px;font-size:7.5px;color:#d8d9da;transform:scaleX(1.0050);transform-origin:0 50%;-webkit-text-stroke:0.3px #d8d9da">24.00</div>
<div class="cell" style="left:957.3px;top:517.78px;width:109.4px;height:18.28px;border-bottom:.8px solid #161618;border-left:.8px solid #161618"></div>
<div class="t" style="left:966px;top:522.32px;font-size:7.5px;color:#d8d9da;transform:scaleX(1.0050);transform-origin:0 50%;-webkit-text-stroke:0.3px #d8d9da">0</div>
<div class="cell" style="left:1066.3px;top:517.78px;width:119px;height:18.28px;border-bottom:.8px solid #161618;border-left:.8px solid #161618"></div>
<div class="t" style="left:1075px;top:522.32px;font-size:7.5px;color:#d8d9da;transform:scaleX(1.0050);transform-origin:0 50%;-webkit-text-stroke:0.3px #d8d9da">2.51</div>
<div class="a" style="left:1185.7px;top:499.5px;width:4.5px;height:147.6px;background:#161618"></div>
<div class="a" style="left:1186.5px;top:499.9px;width:3.2px;height:40px;background:#6e6e72;border-radius:1.5px"></div>
</div></body></html>
